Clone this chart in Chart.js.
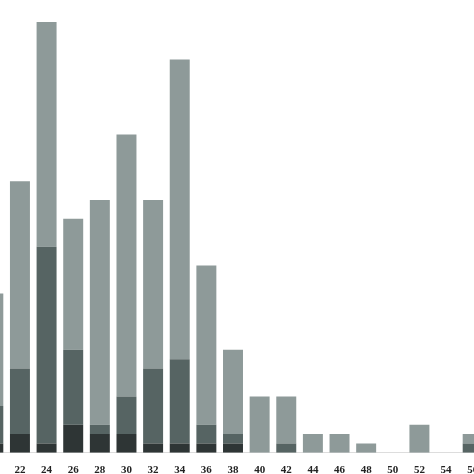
<!DOCTYPE html><html><head><script src="https://cdn.jsdelivr.net/npm/chart.js@4"></script>
<style>html,body{margin:0;overflow:hidden;background:#fff}#w{position:absolute;left:-20px;top:0;width:506px;height:480px}</style></head><body><div id="w"><canvas id="c"></canvas></div>
<script>
const labels=['20','22','24','26','28','30','32','34','36','38','40','42','44','46','48','50','52','54','56'];
const totals=[17,29,46,25,27,34,27,42,20,11,6,6,2,2,1,0,3,0,2];
const midCum=[5,9,22,11,3,6,9,10,3,2,0,1,0,0,0,0,0,0,1];
const darkVals=[1,2,1,3,2,2,1,1,1,1,0,0,0,0,0,0,0,0,0];
const midVals=midCum.map((v,i)=>v-darkVals[i]);
const lightVals=totals.map((v,i)=>v-midCum[i]);
new Chart(document.getElementById('c'),{type:'bar',data:{labels,datasets:[
{data:darkVals,backgroundColor:'#2e3535'},
{data:midVals,backgroundColor:'#566463'},
{data:lightVals,backgroundColor:'#8e9a99'}]},
options:{responsive:true,maintainAspectRatio:false,animation:false,layout:{padding:{top:22}},
plugins:{legend:{display:false},tooltip:{enabled:false}},
datasets:{bar:{barPercentage:0.75,categoryPercentage:1}},
scales:{x:{stacked:true,grid:{display:false,drawTicks:true},border:{color:'#ddd'},ticks:{color:'#222',font:{family:'Liberation Serif',size:11,weight:'bold'},maxRotation:0,autoSkip:false}},
y:{stacked:true,display:false,min:0,max:46}}}});
</script></body></html>
